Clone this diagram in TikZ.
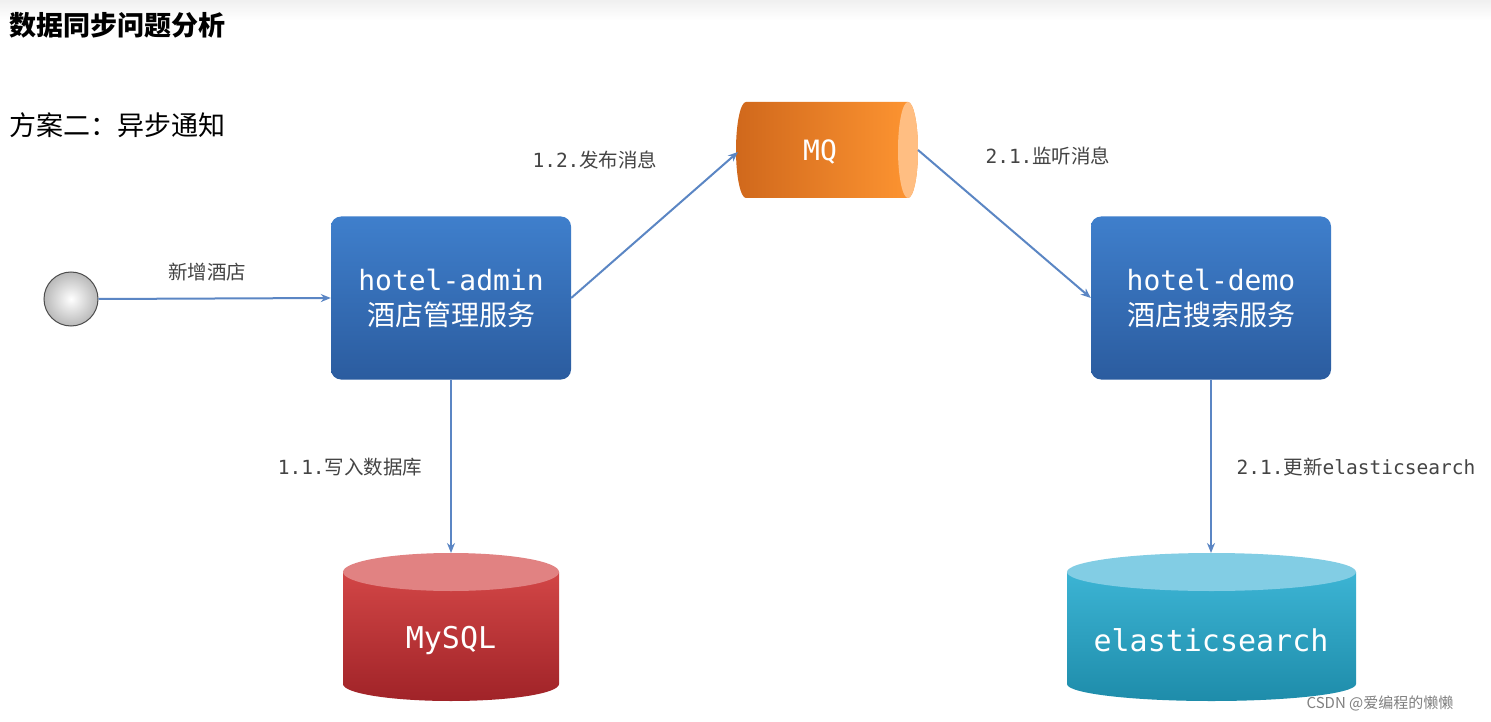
\documentclass[tikz,border=0pt]{standalone}
\usepackage{fontspec}
\setmonofont{DejaVu Sans Mono}
\newfontfamily\cjk{Noto Sans CJK SC}
\usetikzlibrary{arrows.meta}
\definecolor{boxtop}{HTML}{3F7FCC}
\definecolor{boxbot}{HTML}{2B5C9F}
\definecolor{arr}{HTML}{5B86C4}
\definecolor{lbl}{HTML}{444444}
\definecolor{mqL}{RGB}{208,104,28}
\definecolor{mqR}{RGB}{255,150,50}
\definecolor{mqE}{RGB}{255,190,130}
\definecolor{myT}{RGB}{210,70,70}
\definecolor{myB}{RGB}{160,35,40}
\definecolor{myE}{RGB}{225,130,130}
\definecolor{esT}{RGB}{60,180,212}
\definecolor{esB}{RGB}{30,140,170}
\definecolor{esE}{RGB}{130,205,228}
\tikzset{
  svc/.style={rounded corners=10pt,top color=boxtop,bottom color=boxbot,draw=none,
    minimum width=240pt,minimum height=163pt,text=white,align=center,
    font=\fontsize{28}{35}\selectfont},
  conn/.style={draw=arr,line width=2pt,-{Stealth[length=10pt,width=8pt]}},
  lab/.style={text=lbl,font=\fontsize{19.5}{22}\selectfont},
}
\begin{document}
\begin{tikzpicture}[x=1pt,y=-1pt]
\useasboundingbox (0,0) rectangle (1491,722);
\fill[white] (0,0) rectangle (1491,722);
\fill[top color=gray!12,bottom color=white] (0,0) rectangle (1491,20);
\node[anchor=west,font=\cjk\bfseries\fontsize{27}{30}\selectfont] (title) at (6,25) {数据同步问题分析};
\node[anchor=west,font=\cjk\fontsize{27}{30}\selectfont] (plan) at (6,125) {方案二：异步通知};
\node[circle,minimum size=54pt,draw=black!70,line width=1pt,inner color=white,outer color=gray!55] (start) at (71,299) {};
\node[svc] (admin) at (451,298) {\ttfamily hotel-admin\\\cjk 酒店管理服务};
\node[svc] (demo) at (1211,298) {\ttfamily hotel-demo\\\cjk 酒店搜索服务};
% MQ cylinder
\shade[left color=mqL,right color=mqR]
  (746,102) -- (908,102) arc[start angle=-90,end angle=90,x radius=10pt,y radius=-48pt] -- (746,198)
  arc[start angle=90,end angle=270,x radius=10pt,y radius=-48pt] -- cycle;
\fill[mqE] (908,150) ellipse[x radius=10pt,y radius=48pt];
\node[text=white,font=\ttfamily\fontsize{28}{30}\selectfont] (mq) at (820,152) {MQ};
\coordinate (mqLp) at (738,152);
\coordinate (mqRp) at (918,150);
% MySQL
\shade[top color=myT,bottom color=myB]
  (343,572) -- (343,684) arc[start angle=180,end angle=0,x radius=108pt,y radius=-17pt] -- (559,572) -- cycle;
\fill[myE] (451,572) ellipse[x radius=108pt,y radius=19pt];
\node[text=white,font=\ttfamily\fontsize{30}{32}\selectfont] (mysql) at (451,640) {MySQL};
\coordinate (mysqlT) at (451,553);
% ES
\shade[top color=esT,bottom color=esB]
  (1067,572) -- (1067,684) arc[start angle=180,end angle=0,x radius=144.5pt,y radius=-17pt] -- (1356,572) -- cycle;
\fill[esE] (1211.5,572) ellipse[x radius=144.5pt,y radius=19pt];
\node[text=white,font=\ttfamily\fontsize{30}{32}\selectfont] (es) at (1211,640) {elasticsearch};
\coordinate (esTp) at (1211,553);
\draw[conn] (start.east) -- (admin.west);
\draw[conn] (admin.east) -- (mqLp);
\draw[conn] (mqRp) -- (demo.west);
\draw[conn] (admin.south) -- (mysqlT);
\draw[conn] (demo.south) -- (esTp);
\node[lab] (l1) at (207,272) {\cjk 新增酒店};
\node[lab] (l2) at (595,160) {\ttfamily 1.2.\cjk 发布消息};
\node[lab] (l3) at (1048,156) {\ttfamily 2.1.\cjk 监听消息};
\node[lab] (l4) at (350,467) {\ttfamily 1.1.\cjk 写入数据库};
\node[lab] (l5) at (1356,467) {\ttfamily 2.1.\cjk 更新\ttfamily elasticsearch};
\node[text=gray,font=\cjk\fontsize{15}{18}\selectfont] (wm) at (1380,703) {CSDN @爱编程的懒懒};
\end{tikzpicture}
\end{document}
